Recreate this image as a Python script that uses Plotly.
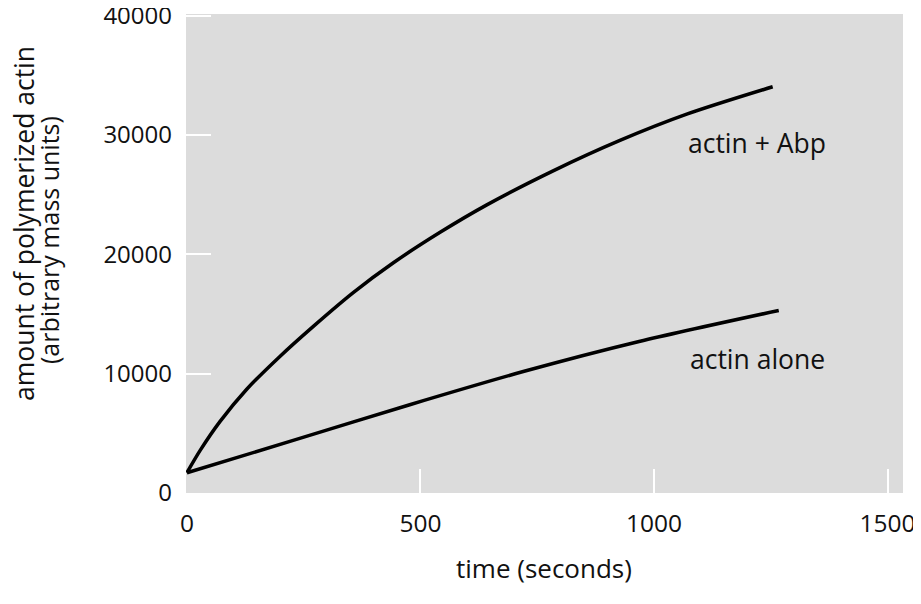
import plotly.graph_objects as go

# Data
t_abp = [0, 28, 71, 128, 199, 270, 356, 442, 542, 642, 784, 927, 1070, 1254]
v_abp = [1700, 3550, 6000, 8700, 11450, 13950, 16800, 19300, 21850, 24150, 27000, 29550, 31750, 34050]

t_alone = [0, 231, 477, 722, 968, 1267]
v_alone = [1700, 4450, 7400, 10200, 12700, 15300]

x_ticks = [0, 500, 1000, 1500]
y_ticks = [0, 10000, 20000, 30000, 40000]

FONT = "Open Sans"
TXT = "#111111"

# The page body has an 8px default margin: size the figure so it fits the window.
OFF = 8
W, H = 921 - OFF, 604 - OFF
L, R, T, B = 186 - OFF, 921 - 903, 14 - OFF, 604 - 493
pw, ph = W - L - R, H - T - B


def px(xp):
    return (xp - OFF - L) / pw


def py(yp):
    return (H - B - (yp - OFF)) / ph


fig = go.Figure()
fig.add_trace(go.Scatter(x=t_abp, y=v_abp, mode="lines",
                         line=dict(color="black", width=3.5, shape="spline", smoothing=0.8),
                         showlegend=False, hoverinfo="skip"))
fig.add_trace(go.Scatter(x=t_alone, y=v_alone, mode="lines",
                         line=dict(color="black", width=3.5, shape="spline", smoothing=0.8),
                         showlegend=False, hoverinfo="skip"))

fig.add_annotation(x=1220, y=29340, text="actin + Abp", showarrow=False,
                   font=dict(family=FONT, size=26.5, color=TXT))
fig.add_annotation(x=1222, y=11230, text="actin alone", showarrow=False,
                   font=dict(family=FONT, size=26.5, color=TXT))

fig.add_annotation(xref="paper", yref="paper", x=px(24), y=py(224),
                   xanchor="center", yanchor="middle",
                   text="amount of polymerized actin", textangle=-90, showarrow=False,
                   borderpad=0,
                   font=dict(family=FONT, size=26.5, color=TXT))
fig.add_annotation(xref="paper", yref="paper", x=px(49), y=py(240),
                   xanchor="center", yanchor="middle",
                   text="(arbitrary mass units)", textangle=-90, showarrow=False,
                   borderpad=0,
                   font=dict(family=FONT, size=25, color=TXT))
fig.add_annotation(xref="paper", yref="paper", x=px(544), y=py(568),
                   xanchor="center", yanchor="middle",
                   text="time (seconds)", showarrow=False,
                   font=dict(family=FONT, size=26, color=TXT))

fig.update_layout(
    width=W, height=H,
    margin=dict(l=L, r=R, t=T, b=B, autoexpand=False),
    paper_bgcolor="white",
    plot_bgcolor="#dcdcdc",
    font=dict(family=FONT, size=24.5, color=TXT),
)
fig.update_xaxes(range=[-2, 1533], tickvals=x_ticks, ticktext=[str(v) for v in x_ticks],
                 ticks="inside", ticklen=24, tickwidth=2, tickcolor="white",
                 showgrid=False, zeroline=False, showline=False, automargin=False,
                 ticklabelstandoff=13, ticklabeloverflow="allow",
                 tickfont=dict(family=FONT, size=24.5, color=TXT))
fig.update_yaxes(range=[0, 40150], tickvals=y_ticks, ticktext=[str(v) for v in y_ticks],
                 ticks="inside", ticklen=25, tickwidth=2, tickcolor="white",
                 showgrid=False, zeroline=False, showline=False, automargin=False,
                 ticklabelstandoff=13, ticklabeloverflow="allow",
                 tickfont=dict(family=FONT, size=24, color=TXT))

fig.write_html("out.html")
